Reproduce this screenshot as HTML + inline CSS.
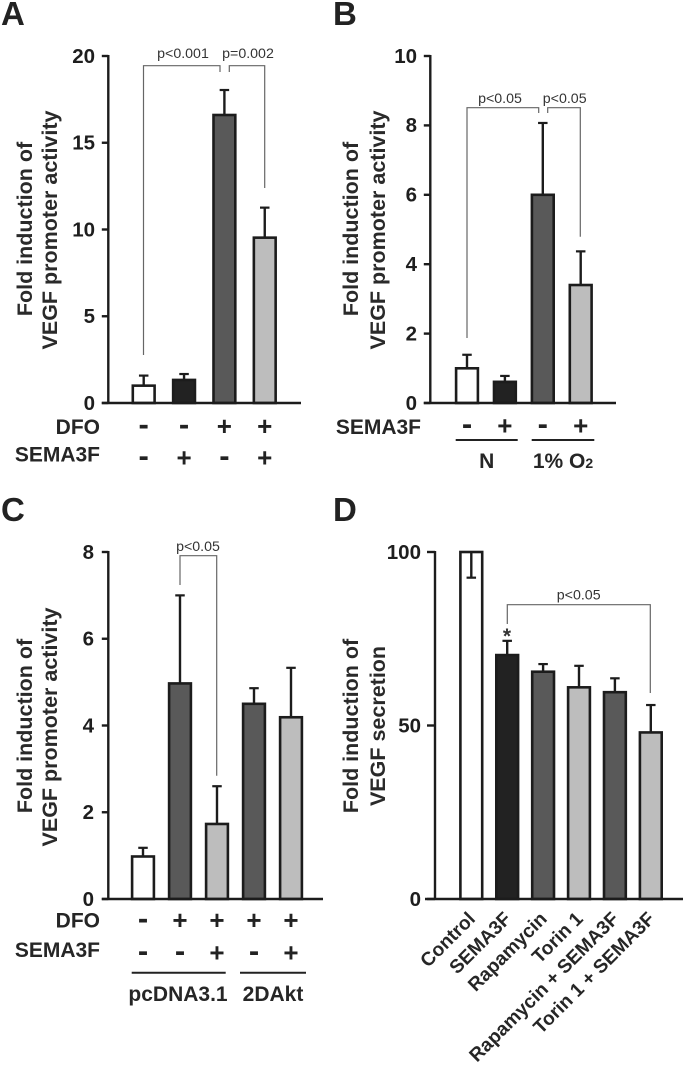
<!DOCTYPE html>
<html lang="en">
<head>
<meta charset="utf-8">
<title>VEGF promoter activity panels</title>
<style>
html,body{margin:0;padding:0;background:#fff;}
svg{display:block;font-family:"Liberation Sans",Arial,sans-serif;}
.letter{font-size:33px;font-weight:700;fill:#222;}
.ytitle{font-size:21.5px;font-weight:700;fill:#2a2a2a;text-anchor:middle;}
.tick{font-size:20.5px;font-weight:700;fill:#1e1e1e;text-anchor:end;}
.rowlabel{font-size:21px;font-weight:700;fill:#262626;text-anchor:end;}
.group{font-size:21px;font-weight:700;fill:#262626;text-anchor:middle;}
.pval{font-size:14.2px;fill:#333;text-anchor:middle;}
.cat{font-size:19.2px;font-weight:700;fill:#262626;text-anchor:end;}
.bracket{fill:none;stroke:#666;stroke-width:1.2;}
</style>
</head>
<body>
<svg id="figure" xmlns="http://www.w3.org/2000/svg" width="685" height="1066" viewBox="0 0 685 1066">
  <rect x="0" y="0" width="685" height="1066" fill="#fff"/>

  <text class="letter" x="1" y="25">A</text>
  <text class="letter" x="333" y="25">B</text>
  <text class="letter" x="1" y="521">C</text>
  <text class="letter" x="333" y="521">D</text>

  <g>
    <text class="ytitle" transform="translate(32,229) rotate(-90)">Fold induction of</text>
    <text class="ytitle" transform="translate(57,230) rotate(-90)">VEGF promoter activity</text>
  </g>
  <g>
    <text class="ytitle" transform="translate(358,229) rotate(-90)">Fold induction of</text>
    <text class="ytitle" transform="translate(385,230) rotate(-90)">VEGF promoter activity</text>
  </g>
  <g>
    <text class="ytitle" transform="translate(32,726) rotate(-90)">Fold induction of</text>
    <text class="ytitle" transform="translate(57,727) rotate(-90)">VEGF promoter activity</text>
  </g>
  <g>
    <text class="ytitle" transform="translate(358,726) rotate(-90)">Fold induction of</text>
    <text class="ytitle" transform="translate(385,726) rotate(-90)">VEGF secretion</text>
  </g>

  <g>
    <path class="bracket" d="M143.5 355V65.7H220V72"/>
    <path class="bracket" d="M229.3 72V65.7H264.7V188"/>
    <text class="pval" x="183" y="58">p&lt;0.001</text>
    <text class="pval" x="248" y="58">p=0.002</text>
  </g>
  <g>
    <path class="bracket" d="M467 338V107.7H538.7V113"/>
    <path class="bracket" d="M547.7 113V107.7H580.3V236.7"/>
    <text class="pval" x="500" y="103">p&lt;0.05</text>
    <text class="pval" x="564.7" y="103">p&lt;0.05</text>
  </g>
  <g>
    <path class="bracket" d="M180 585V555.7H216.7V775.7"/>
    <text class="pval" x="198" y="551">p&lt;0.05</text>
  </g>
  <g>
    <path class="bracket" d="M507.3 624V604.7H650.3V693"/>
    <text class="pval" x="578.7" y="599.5">p&lt;0.05</text>
    <text class="pval" x="507" y="643" style="font-size:21px;font-weight:700">*</text>
  </g>

  <g>
    <line x1="455.7" x2="517.7" y1="440" y2="440" stroke="#222" stroke-width="2"/>
    <line x1="531.7" x2="594.3" y1="440" y2="440" stroke="#222" stroke-width="2"/>
    <text class="group" x="486.7" y="468">N</text>
    <text class="group" x="563" y="468">1% O<tspan font-size="14">2</tspan></text>
  </g>
  <g>
    <line x1="131.7" x2="225.7" y1="972.7" y2="972.7" stroke="#222" stroke-width="2"/>
    <line x1="240" x2="306" y1="972.7" y2="972.7" stroke="#222" stroke-width="2"/>
    <text class="group" x="178" y="1001">pcDNA3.1</text>
    <text class="group" x="273" y="1001">2DAkt</text>
  </g>
</svg>

<script>
// Panel A data
const categoriesA = ["DFO- SEMA3F-", "DFO- SEMA3F+", "DFO+ SEMA3F-", "DFO+ SEMA3F+"];
const valuesA = [1.0, 1.33, 16.6, 9.53];
const errorEndsA = [1.58, 1.67, 18.04, 11.26];
const ticksA = [0, 5, 10, 15, 20];
const dfoA = ["-", "-", "+", "+"];
const semaA = ["-", "+", "-", "+"];

// Panel B data
const categoriesB = ["N SEMA3F-", "N SEMA3F+", "1% O2 SEMA3F-", "1% O2 SEMA3F+"];
const valuesB = [1.0, 0.61, 6.0, 3.4];
const errorEndsB = [1.39, 0.78, 8.07, 4.37];
const ticksB = [0, 2, 4, 6, 8, 10];
const semaB = ["-", "+", "-", "+"];

// Panel C data
const categoriesC = ["pcDNA3.1 DFO- SEMA3F-", "pcDNA3.1 DFO+ SEMA3F-", "pcDNA3.1 DFO+ SEMA3F+", "2DAkt DFO+ SEMA3F-", "2DAkt DFO+ SEMA3F+"];
const valuesC = [0.98, 4.97, 1.73, 4.5, 4.19];
const errorEndsC = [1.18, 7.0, 2.6, 4.86, 5.33];
const ticksC = [0, 2, 4, 6, 8];
const dfoC = ["-", "+", "+", "+", "+"];
const semaC = ["-", "-", "+", "-", "+"];

// Panel D data
const categoriesD = ["Control", "SEMA3F", "Rapamycin", "Torin 1", "Rapamycin + SEMA3F", "Torin 1 + SEMA3F"];
const valuesD = [100, 70.3, 65.5, 61, 59.6, 48];
const errorEndsD = [92.6, 74.4, 67.7, 67.2, 63.6, 55.9];
const ticksD = [0, 50, 100];

const SVG_NS = "http://www.w3.org/2000/svg";
const figure = document.getElementById("figure");
const WHITE = "#ffffff", BLACK = "#222222", DARK = "#595959", LIGHT = "#bdbdbd";
const INK = "#1c1c1c";

function make(parent, tag, attrs, text) {
  const node = document.createElementNS(SVG_NS, tag);
  for (const key in attrs) node.setAttribute(key, attrs[key]);
  if (text !== undefined) node.textContent = text;
  parent.appendChild(node);
  return node;
}

function drawPanel(id, layout, categories, values, errorEnds, ticks, fills) {
  const yScale = v => layout.y0 - (v / layout.yMax) * (layout.y0 - layout.yTop);
  const xBand = i => layout.firstX + i * layout.step;
  const barWidth = 21.8;
  const capWidth = 9.5;

  const group = make(figure, "g", {});
  
  

  ticks.forEach(t => {
    const tickMark = make(group, "line", { x1: layout.axisX - layout.tickLen, x2: layout.axisX, y1: yScale(t), y2: yScale(t), stroke: INK, "stroke-width": 2.4 });
    
    
    const tickLabel = make(group, "text", { class: "tick", x: layout.labelX, y: yScale(t) + 6.8 }, String(t));
    
    
  });

  categories.forEach((c, i) => {
    const cx = xBand(i);
    const top = yScale(values[i]);
    const errEnd = yScale(errorEnds[i]);
    const bar = make(group, "rect", { x: cx - barWidth / 2, y: top, width: barWidth, height: layout.y0 - top, fill: fills[i], stroke: INK, "stroke-width": 2.6 });
    
    
    const stem = make(group, "line", { x1: cx, x2: cx, y1: top, y2: errEnd, stroke: INK, "stroke-width": 2.4 });
    
    
    const cap = make(group, "line", { x1: cx - capWidth / 2, x2: cx + capWidth / 2, y1: errEnd, y2: errEnd, stroke: INK, "stroke-width": 2.2 });
    
    
  });

  const yAxis = make(group, "line", { x1: layout.axisX, x2: layout.axisX, y1: layout.yTop - 1, y2: layout.y0 + 1, stroke: INK, "stroke-width": 2.4 });
  
  
  const xAxis = make(group, "line", { x1: layout.axisX - layout.baseLeft, x2: layout.xEnd, y1: layout.y0, y2: layout.y0, stroke: INK, "stroke-width": 2.4 });
  
  
  return xBand;
}

function drawRow(id, rowName, xBand, signs, label, labelX, labelY, signY) {
  const rowLabel = make(figure, "text", { class: "rowlabel", x: labelX, y: labelY }, label);
  
  
  signs.forEach((s, i) => {
    const plus = s === "+";
    const sign = make(figure, "text", {
      x: xBand(i),
      y: signY + (plus ? 9 : 8.5),
      "text-anchor": "middle",
      "font-weight": 700,
      "font-size": plus ? 26 : 31,
      fill: "#222"
    }, s);
    
    
  });
}

const xA = drawPanel("a", { axisX: 108.3, tickLen: 6.5, baseLeft: 6.5, labelX: 95, y0: 403, yTop: 56, yMax: 20, firstX: 143.7, step: 40.35, xEnd: 301 },
  categoriesA, valuesA, errorEndsA, ticksA, [WHITE, BLACK, DARK, LIGHT]);
drawRow("a", "dfo", xA, dfoA, "DFO", 100, 434, 426);
drawRow("a", "sema3f", xA, semaA, "SEMA3F", 100, 461.7, 457.5);

const xB = drawPanel("b", { axisX: 430.3, tickLen: 6.5, baseLeft: 6.5, labelX: 417, y0: 403, yTop: 56, yMax: 10, firstX: 467, step: 37.9, xEnd: 616 },
  categoriesB, valuesB, errorEndsB, ticksB, [WHITE, BLACK, DARK, LIGHT]);
drawRow("b", "sema3f", xB, semaB, "SEMA3F", 421, 434, 425.5);

const xC = drawPanel("c", { axisX: 108.3, tickLen: 6.5, baseLeft: 6.5, labelX: 94, y0: 899, yTop: 552, yMax: 8, firstX: 143, step: 37, xEnd: 323 },
  categoriesC, valuesC, errorEndsC, ticksC, [WHITE, DARK, LIGHT, DARK, LIGHT]);
drawRow("c", "dfo", xC, dfoC, "DFO", 100, 927.7, 920);
drawRow("c", "sema3f", xC, semaC, "SEMA3F", 100, 957, 952.7);

const xD = drawPanel("d", { axisX: 435, tickLen: 8, baseLeft: 10, labelX: 421, y0: 899, yTop: 552, yMax: 100, firstX: 471.3, step: 35.9, xEnd: 683 },
  categoriesD, valuesD, errorEndsD, ticksD, [WHITE, BLACK, DARK, LIGHT, DARK, LIGHT]);

categoriesD.forEach((c, i) => {
  const ax = xD(i) + 5;
  const ay = 920;
  const label = make(figure, "text", { class: "cat", transform: "translate(" + ax + "," + ay + ") rotate(-45)" }, c);
  
  
});
</script>
</body>
</html>
